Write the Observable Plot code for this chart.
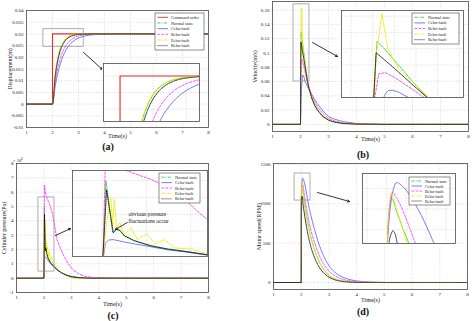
<!DOCTYPE html>
<html><head><meta charset="utf-8">
<script src="https://cdn.jsdelivr.net/npm/d3@7"></script>
<script src="https://cdn.jsdelivr.net/npm/@observablehq/plot@0.6"></script>
<style>html,body{margin:0;padding:0;background:#fff}#root{position:relative;width:474px;height:321px;overflow:hidden;background:#fff}</style>
</head><body><div id="root"></div><script>
// ---------- shared ticks ----------
const xTicks = [1, 2, 3, 4, 5, 6, 7, 8];
const dispTicks = [-0.01, -0.005, 0, 0.005, 0.01, 0.015, 0.02, 0.025, 0.03, 0.035, 0.04];
const velTicks = [0, 0.02, 0.04, 0.06, 0.08, 0.1, 0.12, 0.14, 0.16];
const pressTicks = [-1, 0, 1, 2, 3, 4, 5, 6, 7, 8];
const speedTicks = [0, 500, 1000, 1500];

// ---------- (a) displacement (m) ----------
const dispTime = [1, 2, 2.1, 2.2, 2.3, 2.4, 2.5, 2.6, 2.7, 2.8, 2.9, 3.0, 3.1, 3.2, 3.4, 3.6, 3.8, 4.0, 4.5, 5, 6, 7, 8];
const dispCommandTime = [1, 2, 2, 8];
const dispCommand = [0, 0, 0.03, 0.03];
const dispNormal = [0, 0, 0.01208, 0.0193, 0.02361, 0.02618, 0.02772, 0.02864, 0.02919, 0.02951, 0.02971, 0.02983, 0.0299, 0.02994, 0.02998, 0.03, 0.03, 0.03, 0.03, 0.03, 0.03, 0.03, 0.03];
const dispCebu = [0, 0, 0.0074, 0.01298, 0.01718, 0.02034, 0.02272, 0.02452, 0.02587, 0.02689, 0.02766, 0.02824, 0.02867, 0.029, 0.02943, 0.02968, 0.02982, 0.0299, 0.02997, 0.02999, 0.03, 0.03, 0.03];
const dispBebu = [0, 0, 0.00879, 0.01501, 0.01941, 0.02252, 0.02471, 0.02626, 0.02736, 0.02813, 0.02868, 0.02907, 0.02934, 0.02954, 0.02977, 0.02988, 0.02994, 0.02997, 0.02999, 0.03, 0.03, 0.03, 0.03];
const dispEebu = [0, 0, 0.01227, 0.01953, 0.02382, 0.02634, 0.02784, 0.02872, 0.02925, 0.02956, 0.02974, 0.02984, 0.02991, 0.02995, 0.02998, 0.03, 0.03, 0.03, 0.03, 0.03, 0.03, 0.03, 0.03];
const dispRebu = [0, 0, 0.01137, 0.01842, 0.02281, 0.02554, 0.02723, 0.02828, 0.02893, 0.02933, 0.02959, 0.02974, 0.02984, 0.0299, 0.02996, 0.02998, 0.02999, 0.03, 0.03, 0.03, 0.03, 0.03, 0.03];

// ---------- (b) velocity (m/s): [time, value] ----------
const velNormal = [[1,0],[2,0],[2.005,0.06],[2.02,0.129],[2.051,0.121],[2.1,0.106],[2.15,0.0905],[2.2,0.075],[2.243,0.0625],[2.3,0.05],[2.4,0.037],[2.5,0.028],[2.6,0.021],[2.8,0.011],[3.0,0.006],[3.2,0.0033],[3.5,0.0013],[4,0.0003],[5,0],[8,0]];
const velCebu = [[1,0],[2,0],[2.03,0.045],[2.051,0.06],[2.062,0.066],[2.074,0.0686],[2.09,0.069],[2.12,0.0665],[2.166,0.06],[2.2,0.057],[2.3,0.049],[2.4,0.042],[2.5,0.035],[2.6,0.029],[2.8,0.019],[3.0,0.011],[3.2,0.0075],[3.5,0.004],[4,0.0012],[4.5,0.0004],[5,0],[8,0]];
const velBebu = [[1,0],[2,0],[2.01,0.06],[2.028,0.089],[2.058,0.0906],[2.1,0.085],[2.15,0.076],[2.2,0.067],[2.235,0.0605],[2.3,0.052],[2.4,0.041],[2.5,0.032],[2.6,0.025],[2.8,0.015],[3.0,0.0085],[3.2,0.005],[3.5,0.002],[4,0.0005],[5,0],[8,0]];
const velEebu = [[1,0],[2,0],[2.015,0.11],[2.043,0.163],[2.07,0.12],[2.12,0.095],[2.17,0.083],[2.2,0.075],[2.24,0.065],[2.3,0.05],[2.4,0.036],[2.5,0.027],[2.6,0.02],[2.8,0.01],[3.0,0.0055],[3.5,0.0012],[4,0.0003],[5,0],[8,0]];
const velRebu = [[1,0],[2,0],[2.005,0.06],[2.016,0.115],[2.058,0.1055],[2.1,0.096],[2.15,0.084],[2.2,0.072],[2.25,0.0605],[2.3,0.051],[2.4,0.037],[2.5,0.027],[2.6,0.02],[2.8,0.011],[3.0,0.006],[3.2,0.0033],[3.5,0.0013],[4,0.0003],[5,0],[8,0]];

// ---------- (c) cylinder pressure (x10^6 Pa) ----------
const pressNormal = [[1,0],[2,0],[2.004,0.6],[2.017,5.0],[2.047,1.95],[2.06,2.1],[2.07,2.15],[2.1,1.75],[2.145,1.45],[2.22,1.15],[2.295,0.95],[2.37,0.82],[2.476,0.6],[2.6,0.42],[2.8,0.22],[3.0,0.1],[3.3,0.03],[3.6,0],[8,0]];
const pressCebu = [[1,0],[2,0],[2.005,0.4],[2.015,1.3],[2.03,1.48],[2.05,1.5],[2.08,1.42],[2.1,1.36],[2.145,1.25],[2.22,1.08],[2.295,0.9],[2.37,0.78],[2.476,0.58],[2.6,0.42],[2.8,0.23],[3.0,0.11],[3.3,0.03],[3.6,0],[8,0]];
const pressBebu = [[1,0],[2,0],[2.005,1.0],[2.015,6.5],[2.03,6.3],[2.06,5.9],[2.1,5.65],[2.145,5.42],[2.22,5.08],[2.295,4.6],[2.37,3.92],[2.446,3.0],[2.476,2.7],[2.6,2.1],[2.7,1.65],[2.84,1.15],[3.0,0.72],[3.1,0.52],[3.3,0.27],[3.5,0.13],[3.8,0.05],[4.2,0.015],[4.6,0],[8,0]];
const pressEebu = [[1,0],[2,0],[2.005,0.5],[2.02,2.5],[2.039,4.0],[2.048,2.3],[2.055,3.9],[2.065,2.1],[2.08,2.5],[2.1,1.8],[2.13,2.2],[2.16,1.5],[2.2,1.85],[2.24,1.25],[2.28,1.5],[2.33,1.0],[2.4,0.95],[2.48,0.65],[2.6,0.45],[2.8,0.18],[3.0,0.03],[3.2,-0.05],[3.5,0],[8,0]];
const pressRebu = [[1,0],[2,0],[2.004,0.6],[2.02,4.45],[2.05,1.9],[2.065,2.1],[2.08,2.05],[2.1,1.72],[2.145,1.43],[2.22,1.13],[2.295,0.94],[2.37,0.81],[2.476,0.6],[2.6,0.42],[2.8,0.22],[3.0,0.1],[3.3,0.03],[3.6,0],[8,0]];

// ---------- (d) motor speed (RPM) ----------
const speedNormal = [[1,0],[2,0],[2.003,1000],[2.012,1180],[2.024,1254],[2.05,1190],[2.08,1110],[2.113,1033],[2.15,935],[2.2,830],[2.3,650],[2.4,510],[2.5,400],[2.6,305],[2.7,230],[2.8,172],[3.0,92],[3.2,48],[3.5,18],[3.8,6],[4.2,1],[5,0],[8,0]];
const speedCebu = [[1,0],[2,0],[2.003,1000],[2.01,1120],[2.02,1220],[2.035,1300],[2.051,1329],[2.07,1320],[2.1,1290],[2.15,1215],[2.2,1120],[2.24,1033],[2.3,930],[2.4,780],[2.5,650],[2.6,530],[2.7,430],[2.8,345],[3.0,215],[3.2,135],[3.5,68],[3.8,33],[4.0,20],[4.5,6],[5,1],[8,0]];
const speedBebu = [[1,0],[2,0],[2.003,1000],[2.01,1150],[2.02,1250],[2.028,1281],[2.05,1255],[2.1,1150],[2.146,1033],[2.2,920],[2.3,740],[2.4,600],[2.5,490],[2.6,390],[2.7,305],[2.8,240],[3.0,145],[3.2,88],[3.5,40],[3.8,18],[4.2,6],[4.6,1],[5,0],[8,0]];
const speedEebu = [[1,0],[2,0],[2.003,1000],[2.012,1200],[2.024,1278],[2.05,1200],[2.08,1110],[2.104,1033],[2.15,930],[2.2,825],[2.3,645],[2.4,505],[2.5,395],[2.6,300],[2.7,226],[2.8,168],[3.0,90],[3.2,46],[3.5,17],[3.8,6],[4.2,1],[5,0],[8,0]];
const speedRebu = [[1,0],[2,0],[2.005,880],[2.012,1033],[2.022,1078],[2.033,1094],[2.044,1076],[2.054,1033],[2.1,910],[2.2,690],[2.3,520],[2.4,395],[2.5,300],[2.6,225],[2.7,168],[2.8,125],[3.0,68],[3.2,36],[3.5,13],[3.8,4],[4.2,0],[8,0]];

// ---------- annotations (data coordinates) ----------
const aZoomBox = {x1: 1.65, x2: 3.2, y1: 0.0245, y2: 0.032};
const aArrow = {x1: 3.19, y1: 0.0221, x2: 3.92, y2: 0.0148};
const bZoomBox = {x1: 1.75, x2: 2.32, y1: 0.06, y2: 0.168};
const bArrow = {x1: 2.43, y1: 0.1146, x2: 3.32, y2: 0.095};
const cZoomBox = {x1: 1.8, x2: 2.385, y1: 0.46, y2: 5.63};
const cArrow = {x1: 2.42, y1: 2.98, x2: 2.97, y2: 3.46};
const cNote = {x: 2.119, y: 2.84, text: "obvious pressure\nfluctuations occur"};
const cNoteArrow = {x1: 2.114, y1: 2.52, x2: 2.06, y2: 2.1};
const dZoomBox = {x1: 1.76, x2: 2.335, y1: 1042, y2: 1386};
const dArrow = {x1: 2.59, y1: 1144, x2: 3.74, y2: 1030};

// ---------- styles ----------
const FONT = "'Liberation Serif', 'Times New Roman', serif";
const STY = {
  command: {label: "Command order", stroke: "#ee2b2b", dash: null, w: 1.1},
  normal: {label: "Normal state", stroke: "#2fd02f", dash: "3,1.2,1,1.2", w: 0.9},
  cebu: {label: "Cebu-fault", stroke: "#6b6bff", dash: null, w: 0.9},
  bebu: {label: "Bebu-fault", stroke: "#ff3cff", dash: "2.5,1.5", w: 0.9},
  eebu: {label: "Eebu-fault", stroke: "#eded00", dash: "3,1.2,1,1.2", w: 0.9},
  rebu: {label: "Rebu-fault", stroke: "#111111", dash: "1,1", w: 0.9}
};
const zip = (t, v) => t.map((d, i) => [d, v[i]]);
const seriesA = {command: zip(dispCommandTime, dispCommand), normal: zip(dispTime, dispNormal), cebu: zip(dispTime, dispCebu), bebu: zip(dispTime, dispBebu), eebu: zip(dispTime, dispEebu), rebu: zip(dispTime, dispRebu)};
const seriesB = {normal: velNormal, cebu: velCebu, bebu: velBebu, eebu: velEebu, rebu: velRebu};
const seriesC = {normal: pressNormal, cebu: pressCebu, bebu: pressBebu, eebu: pressEebu, rebu: pressRebu};
const seriesD = {normal: speedNormal, cebu: speedCebu, bebu: speedBebu, eebu: speedEebu, rebu: speedRebu};

const root = document.getElementById("root");
const gridStyle = {stroke: "#c4c4c4", strokeWidth: 0.6, strokeDasharray: "1,1.5"};

function lineMarks(series, curve) {
  return Object.entries(series).map(([k, data]) => Plot.line(data, {
    x: d => d[0], y: d => d[1], stroke: STY[k].stroke, strokeWidth: STY[k].w,
    strokeDasharray: STY[k].dash || undefined, curve, clip: true
  }));
}

function mainPanel(p) {
  const ml = p.fx - p.left, mt = p.fy - p.top;
  const svg = Plot.plot({
    width: ml + p.fw + p.mr, height: mt + p.fh + p.mb,
    marginLeft: ml, marginTop: mt, marginRight: p.mr, marginBottom: p.mb,
    style: {fontFamily: FONT, fontSize: "5px", background: "transparent", overflow: "visible", color: "#222"},
    x: {domain: [1, 8], ticks: xTicks, tickFormat: d => String(d), tickSize: 0, tickPadding: 3,
        label: "Time(s)", labelAnchor: "center", labelOffset: p.xlo, labelArrow: "none"},
    y: {domain: p.yDomain, ticks: p.yTicks, tickFormat: d => String(d), tickSize: 0, tickPadding: 3,
        label: p.yLabel, labelAnchor: "center", labelOffset: p.ylo, labelArrow: "none"},
    marks: [
      Plot.ruleX(xTicks, gridStyle),
      Plot.ruleY(p.yTicks, gridStyle),
      ...lineMarks(p.series, p.curve),
      Plot.rect([p.box], {x1: "x1", x2: "x2", y1: "y1", y2: "y2", fill: "none", stroke: "#8c8c8c", strokeWidth: 0.7}),
      Plot.arrow([p.arrow], {x1: "x1", y1: "y1", x2: "x2", y2: "y2", stroke: "#000", strokeWidth: 0.8, headLength: 4}),
      Plot.frame({stroke: "#4a4a4a", strokeWidth: 0.8})
    ]
  });
  svg.querySelectorAll('[aria-label="x-axis label"], [aria-label="y-axis label"]').forEach(g => { g.style.fontSize = "6px"; });
  svg.style.position = "absolute"; svg.style.left = p.left + "px"; svg.style.top = p.top + "px";
  root.appendChild(svg);
}

function insetPanel(p) {
  const m = 1;
  const svg = Plot.plot({
    width: p.fw + 2 * m, height: p.fh + 2 * m, margin: m,
    style: {fontFamily: FONT, fontSize: "5.5px", background: "#fff", overflow: "visible"},
    x: {domain: p.xDomain, axis: null}, y: {domain: p.yDomain, axis: null},
    marks: [
      Plot.ruleX(d3.ticks(p.xDomain[0], p.xDomain[1], 4), gridStyle),
      Plot.ruleY(d3.ticks(p.yDomain[0], p.yDomain[1], 4), gridStyle),
      ...lineMarks(p.series, p.curve),
      ...(p.extra || []),
      Plot.frame({stroke: "#4a4a4a", strokeWidth: 0.8})
    ]
  });
  svg.style.position = "absolute"; svg.style.left = (p.fx - m) + "px"; svg.style.top = (p.fy - m) + "px";
  root.appendChild(svg);
}

// main panels
mainPanel({left: 0, top: 0, fx: 26, fy: 10, fw: 182, fh: 117, mr: 4, mb: 24, yDomain: [-0.01, 0.04], yTicks: dispTicks,
  yLabel: "Displacement(m)", ylo: 19, xlo: 10.5, series: seriesA, curve: "monotone-x", box: aZoomBox, arrow: aArrow});
mainPanel({left: 237, top: 0, fx: 272, fy: 1, fw: 196, fh: 130, mr: 5, mb: 26, yDomain: [-0.01, 0.172], yTicks: velTicks,
  yLabel: "Velocity(m/s)", ylo: 19.5, xlo: 9.5, series: seriesB, curve: "linear", box: bZoomBox, arrow: bArrow});
mainPanel({left: 0, top: 160, fx: 16, fy: 163, fw: 192, fh: 129, mr: 4, mb: 24, yDomain: [-1, 8], yTicks: pressTicks,
  yLabel: "Cylinder pressure(Pa)", ylo: 14.5, xlo: 13.5, series: seriesC, curve: "linear", box: cZoomBox, arrow: cArrow});
mainPanel({left: 237, top: 160, fx: 273, fy: 163, fw: 194, fh: 126, mr: 6, mb: 24, yDomain: [-89, 1513], yTicks: speedTicks,
  yLabel: "Motor speed(RPM)", ylo: 16.5, xlo: 12.5, series: seriesD, curve: "monotone-x", box: dZoomBox, arrow: dArrow});

// insets
insetPanel({fx: 103, fy: 63, fw: 96, fh: 58, xDomain: [1.75, 3.2], yDomain: [0.0245, 0.0315], series: seriesA, curve: "monotone-x"});
insetPanel({fx: 341, fy: 10, fw: 122, fh: 87, xDomain: [1.856, 2.42], yDomain: [0.06, 0.167], series: seriesB, curve: "linear"});
insetPanel({fx: 72, fy: 170, fw: 135, fh: 86, xDomain: [1.866, 2.476], yDomain: [0.5, 5.6], series: seriesC, curve: "linear",
  extra: [
    Plot.text([cNote], {x: "x", y: "y", text: "text", textAnchor: "start", lineAnchor: "middle", fontSize: 5.6, lineHeight: 1.2, fill: "#111"}),
    Plot.arrow([cNoteArrow], {x1: "x1", y1: "y1", x2: "x2", y2: "y2", stroke: "#000", strokeWidth: 0.8, headLength: 3.5})
  ]});
insetPanel({fx: 362, fy: 173, fw: 93, fh: 70, xDomain: [1.878, 2.348], yDomain: [1033, 1373], series: seriesD, curve: "monotone-x"});

// overlay: legends, panel letters, exponent
const overlay = d3.create("svg").attr("width", 474).attr("height", 321)
  .style("position", "absolute").style("left", "0px").style("top", "0px").style("pointer-events", "none");
function legend(keys, box) {
  const g = overlay.append("g").attr("transform", `translate(${box.x},${box.y})`);
  g.append("rect").attr("x", 0).attr("y", 0).attr("width", box.w).attr("height", box.h)
    .attr("fill", "#fff").attr("stroke", "#444").attr("stroke-width", 0.6);
  const rh = (box.h - 3) / keys.length;
  keys.forEach((k, i) => {
    const y = 1.5 + rh * (i + 0.5);
    g.append("line").attr("x1", 2.5).attr("x2", 13).attr("y1", y).attr("y2", y)
      .attr("stroke", STY[k].stroke).attr("stroke-width", 0.9).attr("stroke-dasharray", STY[k].dash);
    g.append("text").attr("x", 16).attr("y", y).attr("dy", "0.35em").attr("font-size", 4.3)
      .attr("font-family", FONT).attr("fill", "#222").text(STY[k].label);
  });
}
const five = ["normal", "cebu", "bebu", "eebu", "rebu"];
legend(["command", ...five], {x: 155, y: 13, w: 49, h: 37});
legend(five, {x: 412, y: 13, w: 47, h: 31});
legend(five, {x: 159, y: 173, w: 41, h: 30});
legend(five, {x: 409, y: 177, w: 41, h: 28});

[["(a)", 108, 146], ["(b)", 363, 154], ["(c)", 113, 315], ["(d)", 363, 311]].forEach(([t, x, y]) => {
  overlay.append("text").attr("x", x).attr("y", y).attr("dy", "0.35em").attr("text-anchor", "middle")
    .attr("font-family", FONT).attr("font-weight", "bold").attr("font-size", 10).attr("fill", "#111").text(t);
});
const ex = overlay.append("text").attr("x", 13).attr("y", 161.5).attr("font-family", FONT).attr("font-size", 4.5).attr("fill", "#222");
ex.append("tspan").text("× 10");
ex.append("tspan").attr("dy", -1.5).attr("font-size", 3.3).text("6");
root.appendChild(overlay.node());
</script></body></html>
